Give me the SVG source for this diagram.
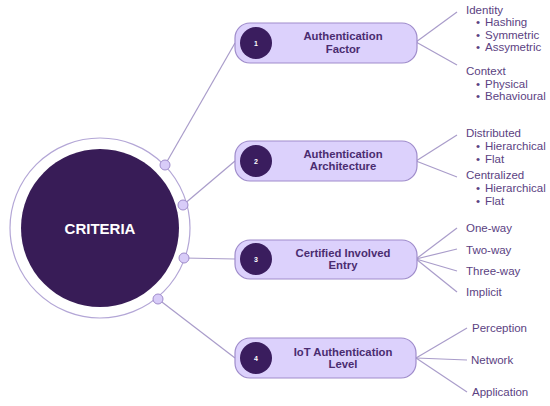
<svg xmlns="http://www.w3.org/2000/svg" width="550" height="406" viewBox="0 0 550 406">
<style>
.ln{stroke:#a99cca;stroke-width:1.2;fill:none}
.box{fill:#dcd1fc;stroke:#9f8ccb;stroke-width:1.2}
.num{fill:#3a1d5e}
.numt{font-family:"Liberation Sans",Arial,sans-serif;font-size:7px;font-weight:bold;fill:#fff;text-anchor:middle}
.lbl{font-family:"Liberation Sans",Arial,sans-serif;font-size:11.3px;font-weight:bold;fill:#4a2c70;text-anchor:middle}
.it{font-family:"Liberation Sans",Arial,sans-serif;font-size:11.5px;fill:#5b4282}
.dot{fill:#d8ccf8;stroke:#9f8ccb;stroke-width:1}
</style>
<rect width="550" height="406" fill="#fff"/>
<g id="connectors">
<line class="ln" x1="165" y1="165" x2="235" y2="43"/>
<line class="ln" x1="183" y1="205" x2="235" y2="161"/>
<line class="ln" x1="184" y1="258" x2="235" y2="259"/>
<line class="ln" x1="158" y1="299" x2="235" y2="358"/>
<line class="ln" x1="416" y1="42" x2="457" y2="12"/>
<line class="ln" x1="416" y1="42" x2="457" y2="65"/>
<line class="ln" x1="416" y1="161" x2="457" y2="135"/>
<line class="ln" x1="416" y1="161" x2="457" y2="177"/>
<line class="ln" x1="416" y1="259" x2="457" y2="228"/>
<line class="ln" x1="416" y1="259" x2="457" y2="249"/>
<line class="ln" x1="416" y1="259" x2="457" y2="271"/>
<line class="ln" x1="416" y1="259" x2="457" y2="292"/>
<line class="ln" x1="416" y1="358" x2="467" y2="328"/>
<line class="ln" x1="416" y1="358" x2="467" y2="360"/>
<line class="ln" x1="416" y1="358" x2="467" y2="392"/>
</g>
<g id="criteria">
<circle cx="100" cy="228" r="90" fill="none" stroke="#b3a6d6" stroke-width="1.2"/>
<circle cx="100" cy="228" r="79" fill="#381c57"/>
<text x="100" y="233.5" font-family="Liberation Sans,Arial,sans-serif" font-size="15" font-weight="bold" fill="#fff" text-anchor="middle">CRITERIA</text>
<circle class="dot" cx="165" cy="165" r="5"/>
<circle class="dot" cx="183" cy="205" r="5"/>
<circle class="dot" cx="184" cy="258" r="5"/>
<circle class="dot" cx="158" cy="299" r="5"/>
</g>
<g id="node1">
<rect class="box" x="235" y="23" width="182" height="40" rx="15"/>
<circle class="num" cx="256" cy="43" r="16"/>
<text class="numt" x="256" y="45.5">1</text>
<text class="lbl" x="343" y="40">Authentication</text>
<text class="lbl" x="343" y="53">Factor</text>
</g>
<g id="node2">
<rect class="box" x="235" y="141" width="182" height="40" rx="15"/>
<circle class="num" cx="256" cy="161" r="16"/>
<text class="numt" x="256" y="163.5">2</text>
<text class="lbl" x="343" y="158">Authentication</text>
<text class="lbl" x="343" y="170">Architecture</text>
</g>
<g id="node3">
<rect class="box" x="235" y="240" width="182" height="39" rx="15"/>
<circle class="num" cx="256" cy="259" r="16"/>
<text class="numt" x="256" y="261.5">3</text>
<text class="lbl" x="343" y="257">Certified Involved</text>
<text class="lbl" x="343" y="269">Entry</text>
</g>
<g id="node4">
<rect class="box" x="235" y="338" width="181" height="40" rx="15"/>
<circle class="num" cx="256" cy="358" r="16"/>
<text class="numt" x="256" y="360.5">4</text>
<text class="lbl" x="343" y="356">IoT Authentication</text>
<text class="lbl" x="343" y="368">Level</text>
</g>
<g id="factor-items">
<text class="it" x="466" y="14">Identity</text>
<text class="it" x="476" y="26">•</text><text class="it" x="485" y="26">Hashing</text>
<text class="it" x="476" y="39">•</text><text class="it" x="485" y="39">Symmetric</text>
<text class="it" x="476" y="51">•</text><text class="it" x="485" y="51">Assymetric</text>
<text class="it" x="466" y="75">Context</text>
<text class="it" x="476" y="88">•</text><text class="it" x="485" y="88">Physical</text>
<text class="it" x="476" y="100">•</text><text class="it" x="485" y="100">Behavioural</text>
</g>
<g id="architecture-items">
<text class="it" x="466" y="137">Distributed</text>
<text class="it" x="476" y="150">•</text><text class="it" x="485" y="150">Hierarchical</text>
<text class="it" x="476" y="163">•</text><text class="it" x="485" y="163">Flat</text>
<text class="it" x="466" y="179">Centralized</text>
<text class="it" x="476" y="192">•</text><text class="it" x="485" y="192">Hierarchical</text>
<text class="it" x="476" y="205">•</text><text class="it" x="485" y="205">Flat</text>
</g>
<g id="entry-items">
<text class="it" x="466" y="232">One-way</text>
<text class="it" x="466" y="254">Two-way</text>
<text class="it" x="466" y="275">Three-way</text>
<text class="it" x="466" y="296">Implicit</text>
</g>
<g id="level-items">
<text class="it" x="472" y="332">Perception</text>
<text class="it" x="471" y="364">Network</text>
<text class="it" x="472" y="396">Application</text>
</g>
</svg>
